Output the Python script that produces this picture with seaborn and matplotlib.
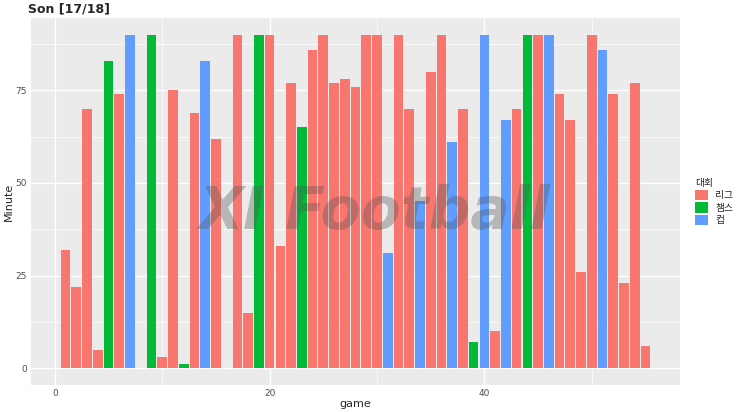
import seaborn as sns
import matplotlib.pyplot as plt
import pandas as pd

games = [1, 2, 3, 4, 5, 6, 7, 9, 10, 11, 12, 13, 14, 15, 17, 18, 19, 20, 21, 22, 23, 24, 25,
         26, 27, 28, 29, 30, 31, 32, 33, 34, 35, 36, 37, 38, 39, 40, 41, 42, 43, 44, 45, 46,
         47, 48, 49, 50, 51, 52, 53, 54, 55]
minutes = [32, 22, 70, 5, 83, 74, 90, 90, 3, 75, 1, 69, 83, 62, 90, 15, 90, 90, 33, 77, 65, 86, 90,
           77, 78, 76, 90, 90, 31, 90, 70, 45, 80, 90, 61, 70, 7, 90, 10, 67, 70, 90, 90, 90,
           74, 67, 26, 90, 86, 74, 23, 77, 6]
comps = ['리그', '리그', '리그', '리그', '챔스', '리그', '컵', '챔스', '리그', '리그', '챔스', '리그', '컵', '리그',
         '리그', '리그', '챔스', '리그', '리그', '리그', '챔스', '리그', '리그',
         '리그', '리그', '리그', '리그', '리그', '컵', '리그', '리그', '컵', '리그', '리그', '컵', '리그', '챔스', '컵',
         '리그', '컵', '리그', '챔스', '리그', '컵',
         '리그', '리그', '리그', '리그', '컵', '리그', '리그', '리그', '리그']
levels = ['리그', '챔스', '컵']
palette = {'리그': '#F8766D', '챔스': '#00BA38', '컵': '#619CFF'}

df = pd.DataFrame({'game': games, 'Minute': minutes, '대회': comps})

sns.set_theme(style='darkgrid', rc={'axes.facecolor': '#EBEBEB', 'grid.color': 'white'})
plt.rcParams['font.family'] = ['DejaVu Sans', 'Noto Sans CJK KR']

fig = plt.figure(figsize=(7.43, 4.12), dpi=100)
ax = fig.add_axes([0.042, 0.066, 0.873, 0.89])
sns.barplot(data=df, x='game', y='Minute', hue='대회', hue_order=levels, palette=palette,
            native_scale=True, dodge=False, width=0.9, saturation=1, linewidth=0, ax=ax)

ax.set_xlim(-2.2, 58.2)
ax.set_ylim(-4.5, 94.5)
ax.set_xticks([0, 20, 40])
ax.set_yticks([0, 25, 50, 75])
ax.set_xticks([10, 30, 50], minor=True)
ax.set_yticks([12.5, 37.5, 62.5, 87.5], minor=True)
ax.grid(True, which='major', color='white', linewidth=1.0)
ax.grid(True, which='minor', color='white', linewidth=0.5)
ax.set_axisbelow(True)
ax.tick_params(labelsize=6.5, colors='#4D4D4D', length=2, pad=1, which='major')
ax.tick_params(which='minor', length=0)
for s in ax.spines.values():
    s.set_visible(False)
ax.set_xlabel('game', fontsize=8, labelpad=1)
ax.set_ylabel('Minute', fontsize=8, labelpad=1)
ax.set_title('Son [17/18]', fontsize=9, loc='left', x=-0.005, pad=4, fontweight='semibold')

ax.text(0.53, 0.47, 'XI Football', transform=ax.transAxes, fontsize=42, fontweight='bold',
        fontstyle='italic', color='#555555', alpha=0.35, ha='center', va='center')

ax.legend(title='대회', loc='center left', bbox_to_anchor=(1.01, 0.5), frameon=False,
          fontsize=7, title_fontsize=7, handlelength=1.3, handleheight=1.3, labelspacing=0.2,
          alignment='left')

fig.savefig('out.png', dpi=100)
